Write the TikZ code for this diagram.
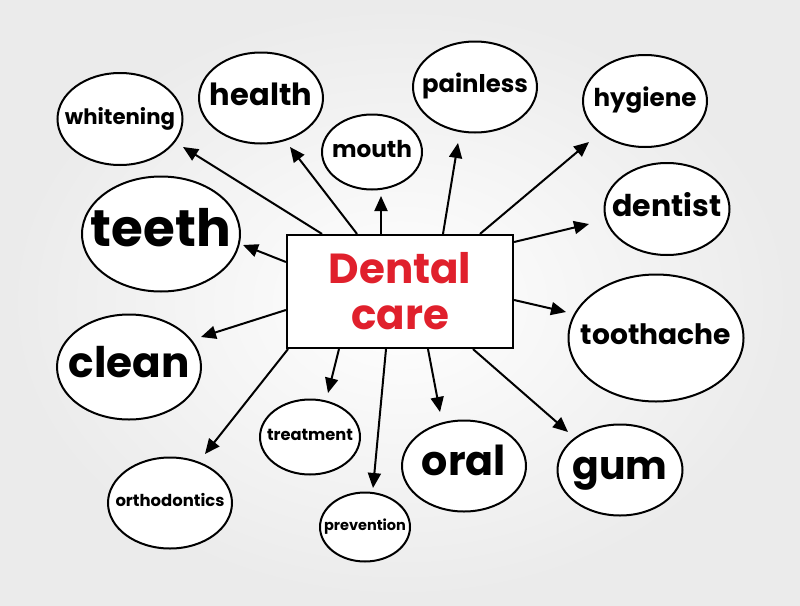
\documentclass[tikz,border=0pt]{standalone}
\usepackage{fontspec}
\setmainfont{Poppins}
\usetikzlibrary{shapes.geometric,arrows.meta}
\definecolor{redtxt}{HTML}{E0202C}
\newcommand{\fitw}[2]{\resizebox{#1}{!}{\strut #2}}
\tikzset{
  bub/.style={draw=black, line width=2pt, fill=white, ellipse, inner sep=0pt},
  txt/.style={font=\bfseries, inner sep=0pt},
  arr/.style={line width=2pt, -{Triangle[length=15pt,width=13pt]}},
}
\begin{document}
\begin{tikzpicture}[x=1pt,y=-1pt]
\useasboundingbox (0,0) rectangle (800,605);
\shade[inner color=white, outer color=black!8] (0,0) rectangle (800,605);
% central box
\node[draw=black, line width=2.2pt, fill=white, minimum width=226pt, minimum height=113pt, inner sep=0pt,
  text=redtxt, align=center, font=\bfseries\fontsize{42}{46}\selectfont] (dc) at (400,291.5) {Dental\\care};
% bubbles
\node[bub, minimum width=125pt, minimum height=92pt, label={[txt]center:\fitw{110pt}{whitening}}] (whitening) at (120,119) {};
\node[bub, minimum width=124pt, minimum height=91pt, label={[txt]center:\fitw{102pt}{health}}] (health) at (261,98) {};
\node[bub, minimum width=100pt, minimum height=75pt, label={[txt]center:\fitw{80pt}{mouth}}] (mouth) at (372,152) {};
\node[bub, minimum width=124pt, minimum height=91pt, label={[txt]center:\fitw{106pt}{painless}}] (painless) at (475,87) {};
\node[bub, minimum width=124pt, minimum height=92pt, label={[txt]center:\fitw{103pt}{hygiene}}] (hygiene) at (645,101) {};
\node[bub, minimum width=125pt, minimum height=92pt, label={[txt]center:\fitw{109pt}{dentist}}] (dentist) at (667,209) {};
\node[bub, minimum width=175pt, minimum height=127pt, label={[txt]center:\fitw{150pt}{toothache}}] (toothache) at (656,338) {};
\node[bub, minimum width=125pt, minimum height=91pt, label={[txt]center:\fitw{95pt}{gum}}] (gum) at (620,470) {};
\node[bub, minimum width=124pt, minimum height=91pt, label={[txt]center:\fitw{84pt}{oral}}] (oral) at (464,466) {};
\node[bub, minimum width=90pt, minimum height=69pt, label={[txt]center:\fitw{82pt}{prevention}}] (prevention) at (365,527) {};
\node[bub, minimum width=100pt, minimum height=75pt, label={[txt]center:\fitw{86pt}{treatment}}] (treatment) at (310,437) {};
\node[bub, minimum width=124pt, minimum height=91pt, label={[txt]center:\fitw{109pt}{orthodontics}}] (orthodontics) at (170,503) {};
\node[bub, minimum width=144pt, minimum height=105pt, label={[txt]center:\fitw{121pt}{clean}}] (clean) at (129,367) {};
\node[bub, minimum width=158pt, minimum height=115pt, label={[txt]center:\fitw{140pt}{teeth}}] (teeth) at (161,234) {};
% arrow tips
\coordinate (tWh) at (183,147);
\coordinate (tHe) at (290,147);
\coordinate (tMo) at (381,196);
\coordinate (tPa) at (458,143);
\coordinate (tHy) at (589,142);
\coordinate (tDe) at (589,224);
\coordinate (tTo) at (566,312);
\coordinate (tGu) at (568,432);
\coordinate (tOr) at (440,412);
\coordinate (tPr) at (373,488);
\coordinate (tTr) at (328,393);
\coordinate (tOd) at (205,454);
\coordinate (tCl) at (201,337);
\coordinate (tTe) at (243,245);
% arrows
\draw[arr] ([xshift=-78pt]dc.north) -- (tWh);
\draw[arr] ([xshift=-43pt]dc.north) -- (tHe);
\draw[arr] ([xshift=-19pt]dc.north) -- (tMo);
\draw[arr] ([xshift=43pt]dc.north) -- (tPa);
\draw[arr] ([xshift=80pt]dc.north) -- (tHy);
\draw[arr] ([yshift=49.5pt]dc.east) -- (tDe);
\draw[arr] ([yshift=-8.5pt]dc.east) -- (tTo);
\draw[arr] ([xshift=73pt]dc.south) -- (tGu);
\draw[arr] ([xshift=28pt]dc.south) -- (tOr);
\draw[arr] ([xshift=-14pt]dc.south) -- (tPr);
\draw[arr] ([xshift=-61pt]dc.south) -- (tTr);
\draw[arr] ([xshift=-112pt]dc.south) -- (tOd);
\draw[arr] ([yshift=-18.5pt]dc.west) -- (tCl);
\draw[arr] ([yshift=29.5pt]dc.west) -- (tTe);
\end{tikzpicture}
\end{document}
